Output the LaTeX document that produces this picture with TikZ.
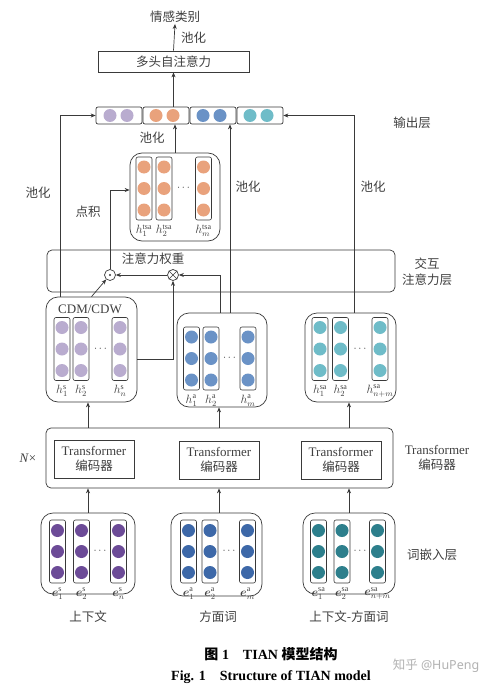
\documentclass[tikz,border=0pt]{standalone}
\usepackage{fontspec}
\usepackage{bm}
\setmainfont{Liberation Serif}
\newfontfamily\cjk{Noto Sans CJK SC}
\newfontfamily\wmfont{Noto Sans}
\usetikzlibrary{arrows.meta,calc}
\definecolor{lc}{HTML}{3A3A3A}
\definecolor{tc}{HTML}{404040}
\definecolor{cpur}{HTML}{6C4B97}
\definecolor{cblu}{HTML}{3D68A8}
\definecolor{cteal}{HTML}{2D7F8C}
\definecolor{hpur}{HTML}{B9ACCF}
\definecolor{hblu}{HTML}{6A92C6}
\definecolor{hteal}{HTML}{6FBCC8}
\definecolor{horg}{HTML}{E9A27C}
\newcommand\mkcol[6]{%
  \node[colbox] (#1) at (#2,#3) {};
  \node[dot,fill=#5] (#1-a) at (#2,#3-#4) {};
  \node[dot,fill=#5] (#1-b) at (#2,#3) {};
  \node[dot,fill=#5] (#1-c) at (#2,#3+#4) {};
  \node[sublbl] (#1-l) at (#2,#3+42) {#6};
}
\begin{document}
\begin{tikzpicture}[x=1pt,y=-1pt,
  ln/.style={draw=lc, line width=0.7pt},
  arr/.style={ln, -{Stealth[length=5pt,width=4pt]}},
  colbox/.style={draw=lc, line width=0.6pt, rounded corners=2pt, minimum width=16pt, minimum height=63pt, inner sep=0pt},
  dot/.style={circle, inner sep=0pt, minimum size=13pt},
  bigbox/.style={draw=lc, line width=0.7pt, rounded corners=12pt, inner sep=0pt},
  sqbox/.style={draw=lc, line width=0.7pt, inner sep=0pt},
  seg/.style={draw=lc, line width=0.7pt, rounded corners=2pt, inner sep=0pt, minimum width=46pt, minimum height=17pt},
  opnode/.style={draw=lc, line width=0.7pt, circle, inner sep=0pt, minimum size=11pt},
  zh/.style={font=\fontsize{12.5}{16}\selectfont\cjk, text=tc, align=center, inner sep=1pt},
  en/.style={font=\fontsize{13}{15}\selectfont, text=tc, align=center, inner sep=1pt},
  sublbl/.style={font=\fontsize{12}{12}\selectfont, text=tc, inner sep=0pt},
  dotslbl/.style={font=\fontsize{11}{12}\selectfont, text=tc, inner sep=0pt},
]
\fill[white] (0,0) rectangle (500,690);
\useasboundingbox (0,0) rectangle (500,690);

% ---------- top ----------
\node[zh] (cls) at (175,17) {情感类别};
\node[sqbox, minimum width=151pt, minimum height=21pt] (mh) at (173.5,61.5) {};
\node[zh] (mhl) at (mh) {多头自注意力};
\node[zh, anchor=west] (p0) at (180,38) {池化};

% ---------- output layer ----------
\node[seg] (out1) at (119,115.5) {};
\node[seg] (out2) at (166,115.5) {};
\node[seg] (out3) at (213,115.5) {};
\node[seg] (out4) at (260,115.5) {};
\node[dot,fill=hpur] (o1a) at (110,115.5) {};
\node[dot,fill=hpur] (o1b) at (127,115.5) {};
\node[dot,fill=horg] (o2a) at (156,115.5) {};
\node[dot,fill=horg] (o2b) at (173,115.5) {};
\node[dot,fill=hblu] (o3a) at (203,115.5) {};
\node[dot,fill=hblu] (o3b) at (220,115.5) {};
\node[dot,fill=hteal] (o4a) at (250,115.5) {};
\node[dot,fill=hteal] (o4b) at (267,115.5) {};
\node[zh] (lout) at (412,123) {输出层};

% ---------- tsa ----------
\node[bigbox, minimum width=90pt, minimum height=88pt] (tsa) at (175,197) {};
\mkcol{t1}{144}{188.5}{21.5}{horg}{$h_1^{\mathrm{tsa}}$}
\mkcol{t2}{164}{188.5}{21.5}{horg}{$h_2^{\mathrm{tsa}}$}
\mkcol{t3}{203.5}{188.5}{21.5}{horg}{$h_m^{\mathrm{tsa}}$}
\node[dotslbl] (tdots) at (183.5,188.5) {$\cdots$};

% ---------- interaction ----------
\node[draw=lc, line width=0.7pt, rounded corners=5pt, minimum width=348pt, minimum height=42pt, inner sep=0pt] (inter) at (221,271) {};
\node[zh] (interl) at (153,259) {注意力权重};
\node[zh] (lint) at (427,272) {交互\\注意力层};
\node[opnode] (odot) at (110,275) {};
\fill[lc] (odot) circle (1.2pt);
\node[opnode] (otimes) at (173,275) {};
\draw[lc, line width=0.6pt] (otimes.north east) -- (otimes.south west) (otimes.north west) -- (otimes.south east);

% ---------- hidden layers ----------
\node[bigbox, minimum width=91pt, minimum height=105pt] (cdm) at (91.5,349.5) {};
\node[en] (cdml) at (90,309) {CDM/CDW};
\mkcol{c1}{62}{349}{21.5}{hpur}{$h_1^{\mathrm{s}}$}
\mkcol{c2}{81}{349}{21.5}{hpur}{$h_2^{\mathrm{s}}$}
\mkcol{c3}{120}{349}{21.5}{hpur}{$h_n^{\mathrm{s}}$}
\node[dotslbl] (cdots) at (100.5,349) {$\cdots$};

\node[bigbox, minimum width=90pt, minimum height=94pt] (asp) at (222,360) {};
\mkcol{a1}{191.5}{358.5}{21.5}{hblu}{$h_1^{\mathrm{a}}$}
\mkcol{a2}{211}{358.5}{21.5}{hblu}{$h_2^{\mathrm{a}}$}
\mkcol{a3}{248}{358.5}{21.5}{hblu}{$h_m^{\mathrm{a}}$}
\node[dotslbl] (adots) at (229.5,358.5) {$\cdots$};

\node[bigbox, minimum width=91pt, minimum height=89pt] (sa) at (350.5,357.5) {};
\mkcol{s1}{320}{349}{21.5}{hteal}{$h_1^{\mathrm{sa}}$}
\mkcol{s2}{340.5}{349}{21.5}{hteal}{$h_2^{\mathrm{sa}}$}
\mkcol{s3}{380}{349}{21.5}{hteal}{$h_{n+m}^{\mathrm{sa}}$}
\node[dotslbl] (sdots) at (360,349) {$\cdots$};

% ---------- transformer ----------
\node[draw=lc, line width=0.7pt, rounded corners=5pt, minimum width=347pt, minimum height=60pt, inner sep=0pt] (trf) at (219.5,458) {};
\node[sqbox, minimum width=80pt, minimum height=38pt, en] (tr1) at (94,459) {Transformer\\{\cjk\fontsize{12.5}{15}\selectfont 编码器}};
\node[sqbox, minimum width=80pt, minimum height=38pt, en] (tr2) at (219,460) {Transformer\\{\cjk\fontsize{12.5}{15}\selectfont 编码器}};
\node[sqbox, minimum width=80pt, minimum height=38pt, en] (tr3) at (341,460) {Transformer\\{\cjk\fontsize{12.5}{15}\selectfont 编码器}};
\node[en] (nx) at (28,458) {\textit{N}×};
\node[en] (ltrf) at (437,458) {Transformer\\{\cjk\fontsize{12.5}{15}\selectfont 编码器}};

% ---------- embeddings ----------
\node[bigbox, minimum width=94pt, minimum height=81pt] (emb1) at (88,553.5) {};
\mkcol{e1}{57.5}{551.5}{21}{cpur}{$\bm{e}_1^{\mathrm{s}}$}
\mkcol{e2}{81.5}{551.5}{21}{cpur}{$\bm{e}_2^{\mathrm{s}}$}
\mkcol{e3}{118.5}{551.5}{21}{cpur}{$\bm{e}_n^{\mathrm{s}}$}
\node[dotslbl] (edots1) at (100,551.5) {$\cdots$};

\node[bigbox, minimum width=91pt, minimum height=83pt] (emb2) at (216.5,554.5) {};
\mkcol{f1}{188.5}{551.5}{21}{cblu}{$\bm{e}_1^{\mathrm{a}}$}
\mkcol{f2}{210}{551.5}{21}{cblu}{$\bm{e}_2^{\mathrm{a}}$}
\mkcol{f3}{247.5}{551.5}{21}{cblu}{$\bm{e}_m^{\mathrm{a}}$}
\node[dotslbl] (edots2) at (229,551.5) {$\cdots$};

\node[bigbox, minimum width=92pt, minimum height=81pt] (emb3) at (349,553.5) {};
\mkcol{g1}{318.5}{551.5}{21}{cteal}{$\bm{e}_1^{\mathrm{sa}}$}
\mkcol{g2}{342}{551.5}{21}{cteal}{$\bm{e}_2^{\mathrm{sa}}$}
\mkcol{g3}{377.5}{551.5}{21}{cteal}{$\bm{e}_{n+m}^{\mathrm{sa}}$}
\node[dotslbl] (edots3) at (360,551.5) {$\cdots$};

\node[zh] (cap1) at (88,617) {上下文};
\node[zh] (cap2) at (218,617) {方面词};
\node[zh] (cap3) at (349,617) {上下文-方面词};
\node[zh] (lemb) at (432,555) {词嵌入层};

% ---------- caption ----------
\node[font=\fontsize{14}{16}\selectfont\bfseries, text=black] (fig1) at (271,654) {{\cjk 图} 1\quad TIAN {\cjk 模型结构}};
\node[font=\fontsize{14}{16}\selectfont\bfseries, text=black] (fig2) at (271,677) {Fig. 1\quad Structure of TIAN model};
\node[font=\fontsize{12.5}{14}\selectfont\wmfont, text=black!30] (wm) at (436,666) {{\cjk 知乎} @HuPeng};

% ---------- connectors ----------
\coordinate (pL) at (60,0);
\coordinate (pR) at (354,0);
\coordinate (pA) at (230,0);
\coordinate (pB) at (220,0);
\coordinate (yc) at (0,359);

\draw[arr] (emb1) -- (emb1 |- trf.south);
\draw[arr] (emb2.north -| tr2) -- (tr2 |- trf.south);
\draw[arr] (emb3) -- (emb3 |- trf.south);
\draw[arr] (emb1 |- trf.north) -- (emb1 |- cdm.south);
\draw[arr] (tr2 |- trf.north) -- (tr2 |- asp.south);
\draw[arr] (emb3 |- trf.north) -- (emb3 |- sa.south);

\draw[arr] (cdm.north -| pL) |- (out1.west);
\draw[arr] (sa.north -| pR) |- (out4.east);
\draw[arr] (asp.north -| pA) -- (out3.south -| pA);
\draw[arr] (tsa.north) -- (out2.south -| tsa.north);
\draw[arr] (out2.north -| mh) -- (mh.south);
\draw[arr] (mh.north) -- (cls.south);

\draw[arr] (asp.north -| pB) |- (otimes.east);
\draw[arr] (cdm.east |- yc) -| (otimes.south);
\draw[arr] (otimes) -- (odot);
\draw[arr] (cdm.north) -- (odot);
\draw[arr] (odot) |- ([yshift=7pt]tsa.west);

\node[zh] (p1) at (38,193) {池化};
\node[zh] (p2) at (152,138) {池化};
\node[zh] (p3) at (248,187) {池化};
\node[zh] (p4) at (373,187) {池化};
\node[zh] (dj) at (88,212) {点积};
\end{tikzpicture}
\end{document}
